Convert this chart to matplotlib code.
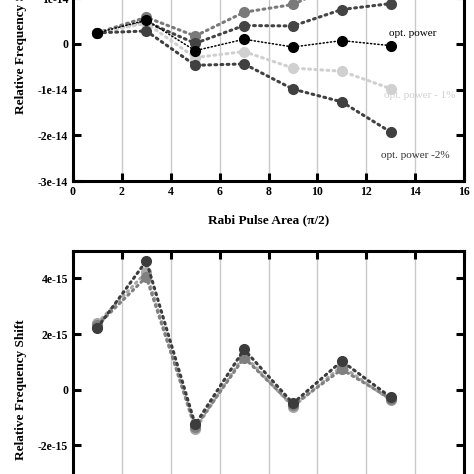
import matplotlib
matplotlib.use("Agg")
import matplotlib.pyplot as plt
from matplotlib.ticker import FixedLocator, FixedFormatter

# ---- data ----
pulse_area = [1, 3, 5, 7, 9, 11, 13]

top_plus2 = [0.24e-14, 0.58e-14, 0.17e-14, 0.69e-14, 0.86e-14, 1.35e-14, 1.6e-14]
top_plus1 = [0.24e-14, 0.48e-14, 0.01e-14, 0.40e-14, 0.39e-14, 0.75e-14, 0.88e-14]
top_opt = [0.24e-14, 0.52e-14, -0.15e-14, 0.10e-14, -0.07e-14, 0.07e-14, -0.04e-14]
top_minus1 = [0.24e-14, 0.45e-14, -0.30e-14, -0.17e-14, -0.53e-14, -0.60e-14, -0.98e-14]
top_minus2 = [0.24e-14, 0.28e-14, -0.47e-14, -0.44e-14, -0.99e-14, -1.27e-14, -1.93e-14]

bot_dark = [2.23e-15, 4.63e-15, -1.25e-15, 1.45e-15, -0.49e-15, 1.03e-15, -0.27e-15]
bot_mid = [2.32e-15, 4.05e-15, -1.35e-15, 1.15e-15, -0.56e-15, 0.73e-15, -0.33e-15]
bot_light = [2.40e-15, 4.23e-15, -1.43e-15, 1.25e-15, -0.62e-15, 0.85e-15, -0.38e-15]

top_yticks = [-3e-14, -2e-14, -1e-14, 0, 1e-14, 2e-14, 3e-14]
top_yticklabels = ["-3e-14", "-2e-14", "-1e-14", "0", "1e-14", "2e-14", "3e-14"]
bot_yticks = [-4e-15, -2e-15, 0, 2e-15, 4e-15]
bot_yticklabels = ["-4e-15", "-2e-15", "0", "2e-15", "4e-15"]
xticks = [0, 2, 4, 6, 8, 10, 12, 14, 16]
xticklabels = ["0", "2", "4", "6", "8", "10", "12", "14", "16"]

label_opt = "opt. power"
label_m1 = "opt. power - 1%"
label_m2 = "opt. power -2%"
xlabel = "Rabi Pulse Area (\u03c0/2)"
ylabel = "Relative Frequency Shift"

SERIF = ["Liberation Serif", "DejaVu Serif"]

fig = plt.figure(figsize=(4.74, 4.74), dpi=100)
W = H = 474.0


def axes_px(left, top, right, bottom):
    return fig.add_axes([left / W, (H - bottom) / H, (right - left) / W, (bottom - top) / H])


def style(ax):
    for s in ax.spines.values():
        s.set_linewidth(2.2)
        s.set_color("black")
    ax.set_xlim(0, 16)
    ax.xaxis.set_major_locator(FixedLocator(xticks))
    ax.tick_params(direction="in", length=6, width=2.2, which="major")
    for xv in range(2, 16, 2):
        ax.axvline(xv, color="#c8c8c8", lw=1.0, zorder=0)


# ---- top panel ----
ax1 = axes_px(73, -93.4, 464, 181)
style(ax1)
ax1.set_ylim(-3e-14, 3e-14)
ax1.yaxis.set_major_locator(FixedLocator(top_yticks))
ax1.yaxis.set_major_formatter(FixedFormatter(top_yticklabels))
ax1.xaxis.set_major_formatter(FixedFormatter(xticklabels))
ax1.tick_params(top=False, right=True, bottom=True, left=True)

thick = dict(ls=(0, (0.6, 1.4)), lw=2.2, marker="o", ms=7, dash_capstyle="round")
thin = dict(ls=(0, (0.8, 1.6)), lw=1.1, marker="o", ms=7, dash_capstyle="round")
ax1.plot(pulse_area, top_plus2, color="#7a7a7a", **thick, zorder=3)
ax1.plot(pulse_area, top_plus1, color="#444444", **thick, zorder=3)
ax1.plot(pulse_area, top_minus1, color="#d0d0d0", **thick, zorder=3)
ax1.plot(pulse_area, top_minus2, color="#404040", **thick, zorder=3)
ax1.plot(pulse_area, top_opt, color="black", **thin, zorder=4)

ax1.text(13.9, 0.23e-14, label_opt, ha="center", va="center", family=SERIF, fontsize=8, color="black")
ax1.text(14.2, -1.14e-14, label_m1, ha="center", va="center", family=SERIF, fontsize=8, color="#d0d0d0")
ax1.text(14.0, -2.44e-14, label_m2, ha="center", va="center", family=SERIF, fontsize=8, color="#333333")

ax1.set_xlabel(xlabel, family=SERIF, fontsize=9.5, fontweight="bold", labelpad=12)
ax1.set_ylabel(ylabel, family=SERIF, fontsize=9.5, fontweight="bold", labelpad=8)
for lab in ax1.get_xticklabels() + ax1.get_yticklabels():
    lab.set_family(SERIF)
    lab.set_fontweight("bold")
    lab.set_fontsize(8.5)

# ---- bottom panel ----
ax2 = axes_px(73, 250.7, 464, 528.7)
style(ax2)
ax2.set_ylim(-5e-15, 5e-15)
ax2.yaxis.set_major_locator(FixedLocator(bot_yticks))
ax2.yaxis.set_major_formatter(FixedFormatter(bot_yticklabels))
ax2.tick_params(top=True, right=True, bottom=True, left=True, labelbottom=False)

ax2.plot(pulse_area, bot_light, color="#a8a8a8", **thick, zorder=3)
ax2.plot(pulse_area, bot_mid, color="#808080", **thick, zorder=3)
ax2.plot(pulse_area, bot_dark, color="#3c3c3c", **thick, zorder=4)

ax2.set_ylabel(ylabel, family=SERIF, fontsize=9.5, fontweight="bold", labelpad=8)
for lab in ax2.get_yticklabels():
    lab.set_family(SERIF)
    lab.set_fontweight("bold")
    lab.set_fontsize(8.5)

fig.savefig("out.png", dpi=100)
